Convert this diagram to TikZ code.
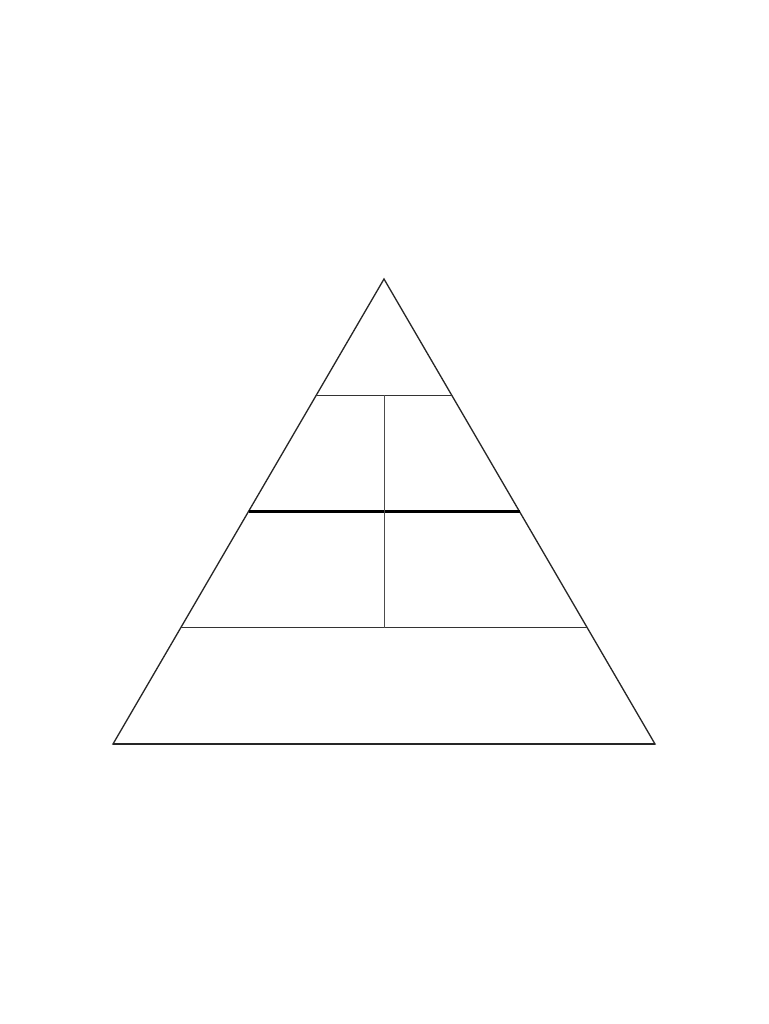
\documentclass[tikz,border=0pt]{standalone}
\usepackage{tikz}
\usetikzlibrary{calc,positioning}
\tikzset{
	outline/.style={draw=black!85,line width=0.75pt},
	tier/.style={draw=black!80,line width=0.45pt},
	split/.style={draw=black!70,line width=0.45pt}
}
\begin{document}
\begin{tikzpicture}[x=0.02cm,y=-0.02cm]
\useasboundingbox (0,0) rectangle (768,1024);

\coordinate (apex) at (384,279);
\coordinate (bl) at (113,744);
\coordinate (br) at (655,744);

\coordinate (l1) at ($(apex)!0.25!(bl)$);
\coordinate (r1) at ($(apex)!0.25!(br)$);
\coordinate (l2) at ($(apex)!0.5!(bl)$);
\coordinate (r2) at ($(apex)!0.5!(br)$);
\coordinate (l3) at ($(apex)!0.75!(bl)$);
\coordinate (r3) at ($(apex)!0.75!(br)$);
\coordinate (m1) at ($(l1)!0.5!(r1)$);
\coordinate (m3) at ($(l3)!0.5!(r3)$);

\draw[outline] (apex) -- (bl) -- (br) -- cycle;
\draw[outline,line width=0.9pt] (bl) -- (br);
\draw[tier] (l1) -- (r1);
\draw[tier,draw=black,line width=1.15pt] (l2) -- (r2);
\draw[tier] (l3) -- (r3);
\draw[split] (m1) -- (m3);

\end{tikzpicture}
\end{document}
